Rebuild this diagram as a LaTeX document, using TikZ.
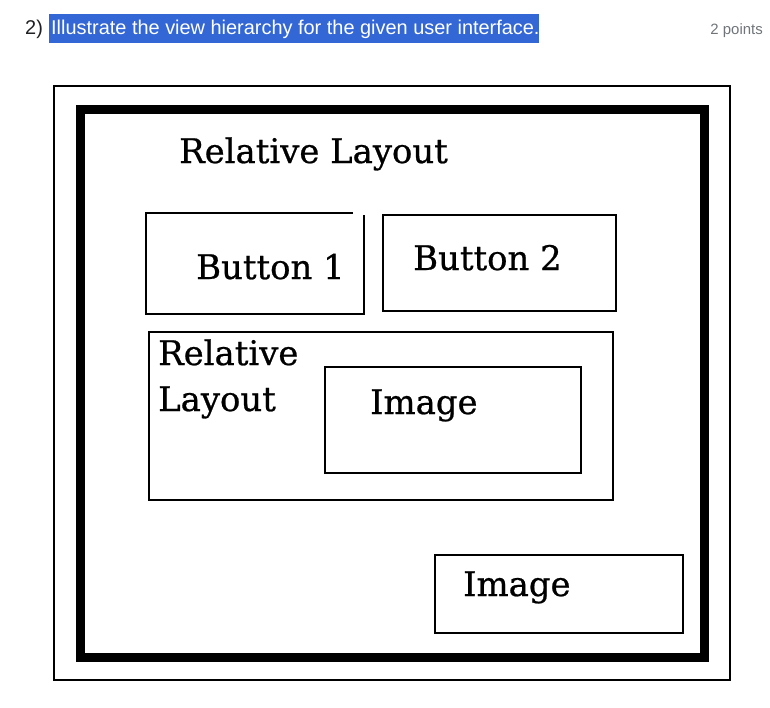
\documentclass[tikz,border=0pt]{standalone}
\usepackage{fontspec}
\newfontfamily\uifont{Liberation Sans}
\newfontfamily\drawfont[FakeBold=0.7]{DejaVu Serif}
\definecolor{hlblue}{HTML}{3367D6}
\definecolor{qtext}{HTML}{202124}
\definecolor{ptgray}{HTML}{70757A}
\tikzset{
  frame/.style={draw=black,line width=2bp},
  thickframe/.style={draw=black,line width=9bp},
  box/.style={draw=black,line width=2.2bp},
  ui/.style={inner sep=0pt,anchor=base west,text=black,font=\drawfont\fontsize{34}{37}\selectfont},
}
\begin{document}
\begin{tikzpicture}[x=1bp,y=-1bp]
\useasboundingbox[fill=white] (0,0) rectangle (770,708);
% header
\fill[hlblue] (49,14) rectangle (539,43);
\node[inner sep=0pt,anchor=base west,text=qtext,font=\uifont\fontsize{20}{22}\selectfont] (num) at (25,35) {2)};
\node[inner sep=0pt,anchor=base west,text=white,font=\uifont\fontsize{20}{22}\selectfont] (question) at (51,35) {Illustrate the view hierarchy for the given user interface.};
\node[inner sep=0pt,anchor=base east,text=ptgray,font=\uifont\fontsize{15}{17}\selectfont] (points) at (763,35) {2 points};
% frames
\draw[frame] (54,86) rectangle (730,680);
\draw[thickframe] (80,110) rectangle (704,657);
% button 1 (open corner)
\draw[box] (353,213) -- (146,213) -- (146,314) -- (364,314) -- (364,215);
% button 2
\draw[box] (383,215) rectangle (616,311);
% inner relative layout
\draw[box] (149,332) rectangle (613,500);
\draw[box] (325,367) rectangle (581,473);
% bottom image
\draw[box] (435,555) rectangle (683,633);
% labels
\node[ui] (rl) at (179,163) {Relative Layout};
\node[ui] (b1) at (196,279) {Button 1};
\node[ui] (b2) at (413,270) {Button 2};
\node[ui] (rl2a) at (158,365) {Relative};
\node[ui] (rl2b) at (158,411) {Layout};
\node[ui] (img1) at (370,414) {Image};
\node[ui] (img2) at (463,596) {Image};
\end{tikzpicture}
\end{document}
